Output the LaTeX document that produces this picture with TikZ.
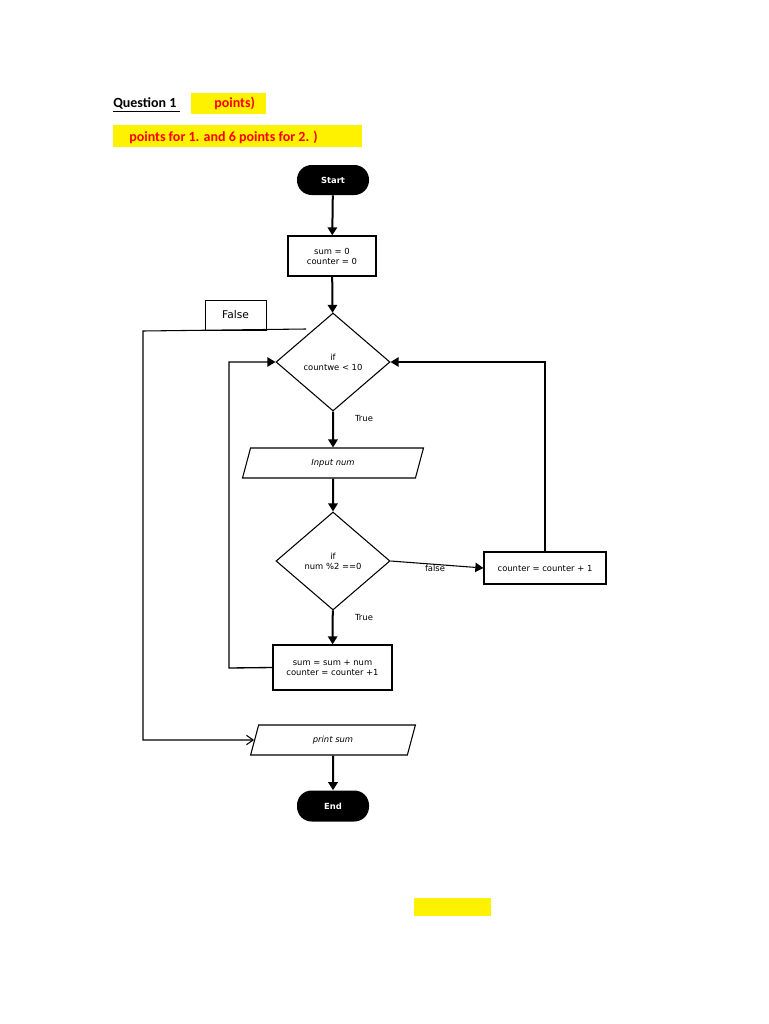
\documentclass[tikz,border=0pt]{standalone}
\usepackage{fontspec}
\setmainfont{DejaVu Sans}
\newfontfamily\calfont{Carlito}
\usetikzlibrary{shapes.geometric,arrows.meta}
\begin{document}
\begin{tikzpicture}[x=0.75pt,y=-0.75pt,
  every node/.style={font=\fontsize{6.3}{7.5}\selectfont},
  box/.style={draw,line width=1pt,align=center,inner sep=0pt},
  term/.style={fill=black,rounded corners=11pt,text=white,font=\fontsize{6.3}{7.5}\selectfont\bfseries},
  io/.style={draw,line width=0.8pt,trapezium,trapezium left angle=75,trapezium right angle=105,minimum width=86pt*0.75,minimum height=30*0.75pt,inner sep=0pt,font=\fontsize{6.3}{7.5}\selectfont\itshape},
  dia/.style={draw,line width=0.8pt,diamond,minimum width=114*0.75pt,minimum height=98*0.75pt,inner sep=0pt,align=center,aspect=1.16},
  conn/.style={line width=1.5pt,-{Triangle[length=6pt,width=7pt]}},
  lbl/.style={font=\fontsize{6.3}{7.5}\selectfont}]
\useasboundingbox (0,0) rectangle (768,1024);
% header
\fill[yellow] (191,93) rectangle (266,114);
\fill[yellow] (113,125) rectangle (362,147);
\node[anchor=base west,inner sep=0pt,font=\calfont\fontsize{10.5}{12}\selectfont\bfseries] at (113,108) {\underline{Question 1 }};
\node[anchor=base west,inner sep=0pt,text=red,font=\calfont\fontsize{10.5}{12}\selectfont\bfseries] at (214,108) {points)};
\node[anchor=base west,inner sep=0pt,text=red,font=\calfont\fontsize{10.5}{12}\selectfont\bfseries] at (129,141) {points for 1. and 6 points for 2. )};
\fill[yellow] (414,898) rectangle (491,916);
% nodes
\node[term,minimum width=72*0.75pt,minimum height=30*0.75pt] (start) at (333,180) {Start};
\node[box,minimum width=88*0.75pt,minimum height=40*0.75pt] (init) at (332,256) {sum = 0\\counter = 0};
\node[dia] (d1) at (333,362) {if\\countwe < 10};
\node[io] (in) at (333,463) {Input num};
\node[dia] (d2) at (333,561) {if\\num \%2 ==0};
\node[box,minimum width=122*0.75pt,minimum height=32*0.75pt] (inc) at (545,568) {counter = counter + 1};
\node[box,minimum width=119*0.75pt,minimum height=45*0.75pt] (add) at (332.5,667.5) {sum = sum + num\\counter = counter +1};
\node[io] (pr) at (333,740) {print sum};
\node[term,minimum width=72*0.75pt,minimum height=31*0.75pt] (end) at (333,806) {End};
\node[box,line width=0.6pt,minimum width=61*0.75pt,minimum height=30*0.75pt,font=\fontsize{8}{9}\selectfont] (fb) at (235.5,315) {False};
% connectors
\draw[conn] (start) -- (init);
\draw[conn] (init) -- (d1);
\draw[conn] (d1) -- (in);
\draw[conn] (in) -- (d2);
\draw[conn] (d2) -- (add);
\draw[conn] (pr) -- (end);
\draw[line width=0.8pt,-{Triangle[length=6pt,width=7pt]}] (d2.east) -- (inc.west);
\draw[line width=1pt,-{Triangle[length=6pt,width=7pt]}] (inc.north) |- (d1.east);
\draw[line width=1pt,-{Triangle[length=6pt,width=7pt]}] (add.west) -- (229,668) |- (d1.west);
\coordinate (fs) at (306,329);
\draw[line width=0.8pt,-{Straight Barb[length=5pt,width=7pt]}] (fs) -- (143,331) |- (pr.west);
\node[lbl] at (364,418) {True};
\node[lbl] at (364,617) {True};
\node[lbl] at (435,568) {false};
\end{tikzpicture}
\end{document}
